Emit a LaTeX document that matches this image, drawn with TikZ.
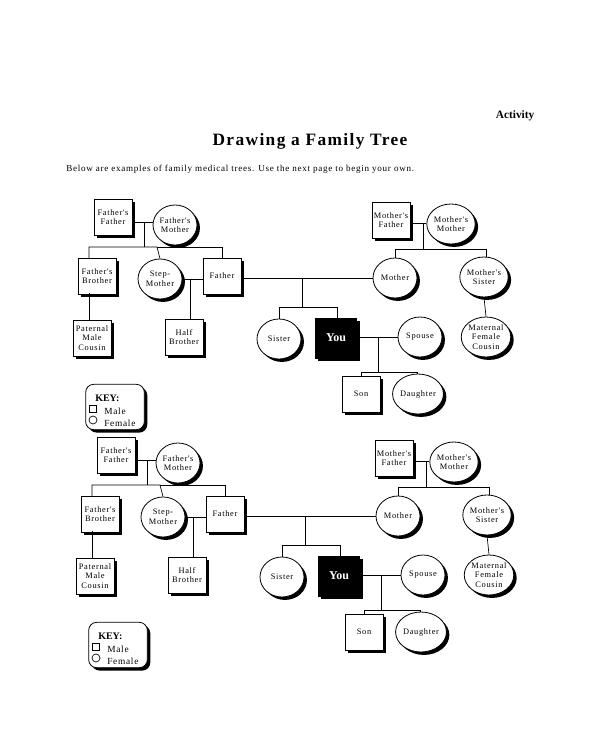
\documentclass[tikz,border=0pt]{standalone}
\usepackage{fontspec}
\setmainfont{Liberation Serif}
\newfontfamily\spaced[LetterSpace=8]{Liberation Serif}
\usetikzlibrary{shapes.geometric,shadows}
\tikzset{
  shd/.style={drop shadow={shadow xshift=2.2pt,shadow yshift=-2.2pt,fill=black,opacity=1}},
  lbl/.style={font=\spaced\fontsize{6.3}{7.2}\selectfont,align=center,inner sep=0pt},
  male/.style={rectangle,draw,line width=0.6pt,fill=white,shd,minimum width=28.5pt,minimum height=27pt,lbl},
  female/.style={ellipse,draw,line width=0.6pt,fill=white,shd,minimum width=33pt,minimum height=30pt,lbl},
  you/.style={rectangle,draw,fill=black,text=white,shd,minimum width=31pt,minimum height=30pt,font=\bfseries\fontsize{9}{10}\selectfont},
  keybox/.style={rectangle,rounded corners=6pt,draw,line width=0.6pt,fill=white,shd,minimum width=44pt,minimum height=34pt},
  ln/.style={line width=0.5pt}
}
\newcommand\famtree{%
  \node[male] (ff) at (113,217) {Father's\\Father};
  \node[female] (fm) at (175,225) {Father's\\Mother};
  \node[male] (fb) at (97,276) {Father's\\Brother};
  \node[female] (sm) at (160,279) {Step-\\Mother};
  \node[male] (fa) at (222,276) {Father};
  \node[male] (hb) at (184,337) {Half\\Brother};
  \node[male] (pc) at (92,338) {Paternal\\Male\\Cousin};
  \node[female] (si) at (279,339) {Sister};
  \node[you] (yo) at (336,338) {You};
  \node[female] (sp) at (420,337) {Spouse};
  \node[male] (so) at (361,394) {Son};
  \node[female] (da) at (418,394) {Daughter};
  \node[female] (mo) at (395,278) {Mother};
  \node[male] (mf) at (391,220) {Mother's\\Father};
  \node[female] (mm) at (451,224) {Mother's\\Mother};
  \node[female] (ms) at (484,277) {Mother's\\Sister};
  \node[female] (mc) at (486,337) {Maternal\\Female\\Cousin};
  \coordinate (c1) at (144,222);
  \coordinate (c2) at (190,279);
  \coordinate (c3) at (302,278);
  \coordinate (c4) at (378,337);
  \coordinate (c5) at (423,223);
  \begin{scope}[on background layer/.try]
  \draw[ln] (ff.east |- c1) -- (fm.west |- c1);
  \draw[ln] (c1) -- (144,247);
  \draw[ln] (89,258) |- (157,247) -- (sm.north);
  \draw[ln] (157,247) -| (fa.north);
  \draw[ln] (sm.east |- c2) -- (fa.west |- c2);
  \draw[ln] (c2) -- (hb.north -| c2);
  \draw[ln] (89,293) -- (89,321);
  \draw[ln] (fa.east |- c3) -- (mo.west |- c3);
  \draw[ln] (c3) -- (302,307);
  \draw[ln] (si.north) |- (337,307) -- (yo.north -| 337,0);
  \draw[ln] (yo.east |- c4) -- (sp.west |- c4);
  \draw[ln] (c4) -- (378,372);
  \draw[ln] (so.north) |- (417,372) -- (da.north -| 417,0);
  \draw[ln] (mf.east |- c5) -- (mm.west |- c5);
  \draw[ln] (c5) -- (423,249);
  \draw[ln] (mo.north) |- (486,249) -- (ms.north -| 486,0);
  \draw[ln] (ms.south) -- (mc.north);
  \end{scope}
  \node[keybox] (key) at (115,407) {};
  \node[font=\bfseries\fontsize{7.5}{8}\selectfont,anchor=west,inner sep=0pt] (kt) at (95,398) {KEY:};
  \node[draw,line width=0.5pt,minimum size=5pt,inner sep=0pt] (ksq) at (93,409) {};
  \node[draw,circle,line width=0.5pt,minimum size=6pt,inner sep=0pt] (kci) at (93,420) {};
  \node[lbl,anchor=west,font=\spaced\fontsize{7}{8}\selectfont] (km) at (104,411) {Male};
  \node[lbl,anchor=west,font=\spaced\fontsize{7}{8}\selectfont] (kf) at (104,423) {Female};
}
\begin{document}
\begin{tikzpicture}[x=0.75pt,y=-0.75pt]
\useasboundingbox (0,0) rectangle (600,730);
\node[anchor=east,font=\bfseries\fontsize{8.5}{10}\selectfont] (act) at (539,116) {Activity};
\node[font=\bfseries\spaced\fontsize{13}{15}\selectfont] (title) at (310,141) {Drawing a Family Tree};
\node[anchor=west,font=\spaced\fontsize{6.8}{8}\selectfont,inner sep=0pt] (sub) at (66,169) {Below are examples of family medical trees. Use the next page to begin your own.};
\begin{scope}[name prefix=a-]
\famtree
\end{scope}
\begin{scope}[shift={(3,238)},name prefix=b-]
\famtree
\end{scope}
\end{tikzpicture}
\end{document}
